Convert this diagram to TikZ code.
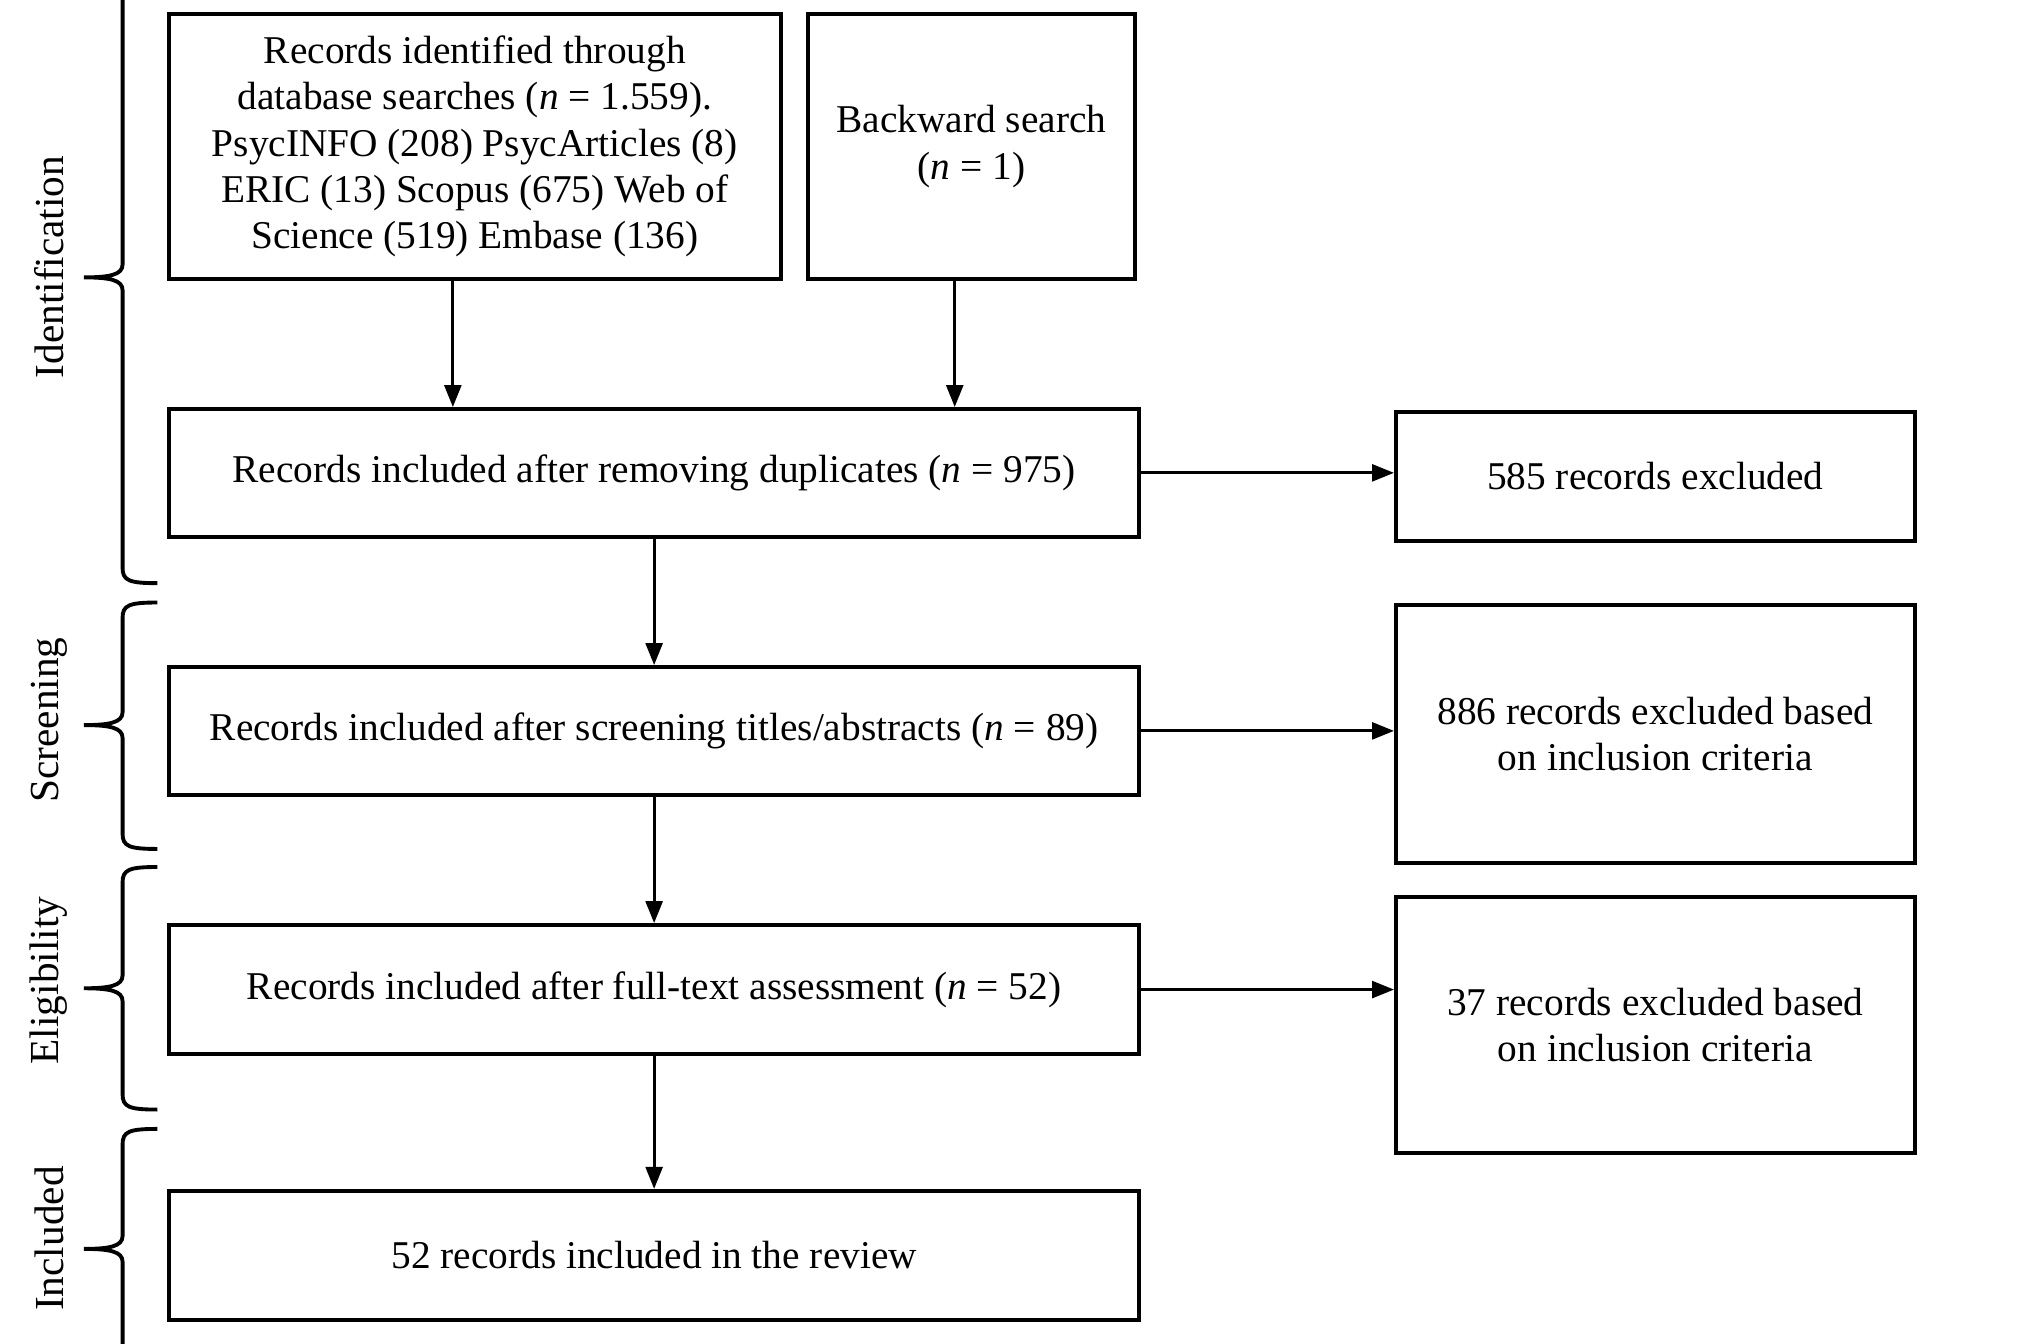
\documentclass[tikz,border=0pt]{standalone}
\usepackage{fontspec}
\setmainfont{Liberation Serif}
\usetikzlibrary{arrows.meta}
\tikzset{
  stagebox/.style={draw, line width=3pt, align=center, inner sep=0pt, font=\fontsize{30.5}{36}\selectfont},
  flowarrow/.style={line width=2.4pt, -{Triangle[length=17pt,width=13pt]}},
  phaselabel/.style={rotate=90, font=\fontsize{32}{36}\selectfont}
}
\newcommand{\phasebrace}[3]{%
  \draw[line width=3pt] (122,#1) .. controls (100,#1) and (95,#1+2) .. (95,#1+12)
    -- (95,#2-10) .. controls (95,#2-2) and (85,#2) .. (65,#2)
    (65,#2) .. controls (85,#2) and (95,#2+2) .. (95,#2+10)
    -- (95,#3-12) .. controls (95,#3-2) and (100,#3) .. (122,#3);}
\begin{document}
\begin{tikzpicture}[x=1pt,y=-1pt]
\useasboundingbox (0,0) rectangle (1568,1041);

% stage boxes
\node[stagebox, minimum width=474pt, minimum height=205pt] (dbsearch) at (368,113.5)
  {Records identified through\\ database searches (\textit{n} = 1.559).\\ PsycINFO (208) PsycArticles (8)\\ ERIC (13) Scopus (675) Web of\\ Science (519) Embase (136)};
\node[stagebox, minimum width=254pt, minimum height=205pt] (backward) at (753,113.5)
  {Backward search\\ (\textit{n} = 1)};
\node[stagebox, minimum width=752pt, minimum height=99pt] (dedup) at (507,366.5)
  {Records included after removing duplicates (\textit{n} = 975)};
\node[stagebox, minimum width=402pt, minimum height=100pt] (excl1) at (1283,369)
  {585 records excluded};
\node[stagebox, minimum width=752pt, minimum height=99pt] (screen) at (507,566.5)
  {Records included after screening titles/abstracts (\textit{n} = 89)};
\node[stagebox, minimum width=402pt, minimum height=200pt] (excl2) at (1283,569)
  {886 records excluded based\\ on inclusion criteria};
\node[stagebox, minimum width=752pt, minimum height=100pt] (fulltext) at (507,767)
  {Records included after full-text assessment (\textit{n} = 52)};
\node[stagebox, minimum width=402pt, minimum height=199pt] (excl3) at (1283,794.5)
  {37 records excluded based\\ on inclusion criteria};
\node[stagebox, minimum width=752pt, minimum height=100pt] (included) at (507,973)
  {52 records included in the review};

% arrows
\draw[flowarrow] (dbsearch.south -| 351,0) -- (dedup.north -| 351,0);
\draw[flowarrow] (backward.south -| 740,0) -- (dedup.north -| 740,0);
\draw[flowarrow] (dedup.south) -- (screen.north);
\draw[flowarrow] (screen.south) -- (fulltext.north);
\draw[flowarrow] (fulltext.south) -- (included.north);
\draw[flowarrow] (dedup.east) -- (dedup.east -| excl1.west);
\draw[flowarrow] (screen.east) -- (screen.east -| excl2.west);
\draw[flowarrow] (fulltext.east) -- (fulltext.east -| excl3.west);

% phase braces
\draw[line width=3pt] (95,-5) -- (95,205) .. controls (95,213) and (85,215) .. (65,215)
  (65,215) .. controls (85,215) and (95,217) .. (95,225) -- (95,440)
  .. controls (95,450) and (100,452) .. (122,452);
\phasebrace{467}{562}{658}
\phasebrace{672}{766}{860}
\draw[line width=3pt] (122,875) .. controls (100,875) and (95,877) .. (95,887)
  -- (95,958) .. controls (95,966) and (85,968) .. (65,968)
  (65,968) .. controls (85,968) and (95,970) .. (95,978) -- (95,1046);
\node[phaselabel] (ident) at (38,207) {Identification};
\node[phaselabel] (scr) at (38,558) {Screening};
\node[phaselabel] (elig) at (38,760) {Eligibility};
\node[phaselabel] (incl) at (38,960) {Included};
\end{tikzpicture}
\end{document}
